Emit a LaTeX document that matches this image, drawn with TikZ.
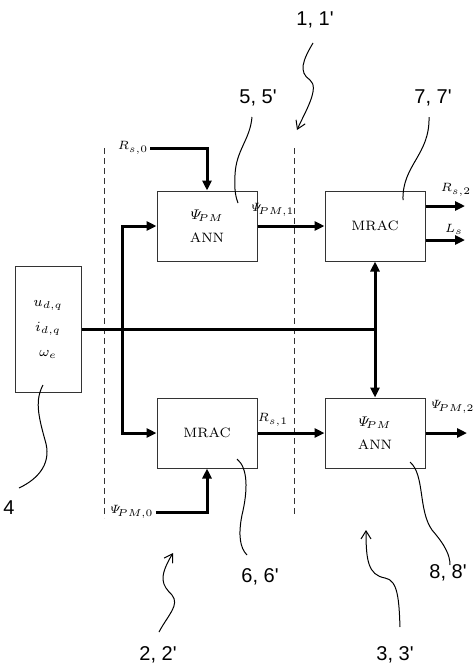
\documentclass[tikz,border=0pt]{standalone}
\usepackage{amsmath}
\usepackage{fontspec}
\usepackage{xcolor}
\usepackage{tikz}
\usetikzlibrary{arrows.meta, calc}
\newfontfamily\refnumfont{Liberation Sans}
\tikzset{
	block/.style={draw=black!80, line width=0.5pt, minimum width=50pt, minimum height=35pt, inner sep=0pt, align=center, font=\fontsize{6.8}{8}\selectfont},
	flow/.style={line width=1.5pt, -{Triangle[length=5pt,width=4.5pt]}},
	dflow/.style={line width=1.5pt, {Triangle[length=5pt,width=4.5pt]}-{Triangle[length=5pt,width=4.5pt]}},
	bus/.style={line width=1.5pt},
	sep/.style={densely dashed, line width=0.5pt, black!80},
	lead/.style={line width=0.5pt},
	pointer/.style={line width=0.5pt, -{Straight Barb[length=4pt,width=5pt]}},
	refnum/.style={font=\refnumfont\fontsize{10}{12}\selectfont},
	sig/.style={font=\fontsize{6.5}{8}\selectfont, inner sep=1pt}
}

\begin{document}
\begin{tikzpicture}[x=0.5pt, y=-0.5pt]

	\useasboundingbox (0,0) rectangle (474,669);

	\node[block, minimum width=33pt, minimum height=63pt] (sens) at (48,329) {$u_{d,q}$\\[4.5pt]$i_{d,q}$\\[4.5pt]$\omega_e$};
	\node[block] (ann1) at (207,226) {$\varPsi_{\!PM}$\\[3.5pt]ANN};
	\node[block] (mrac1) at (207,433) {MRAC};
	\node[block] (mrac2) at (375,226) {MRAC};
	\node[block] (ann2) at (375,433) {$\varPsi_{\!PM}$\\[3.5pt]ANN};

	\coordinate (split) at (122,329);
	\coordinate (tee) at (mrac2.south |- sens.east);
	\coordinate (rs2end) at (465,206);
	\coordinate (lsend) at (465,240);
	\coordinate (psi2end) at (467,433);

	\draw[sep] (104,148) -- (104,518);
	\draw[sep] (294,148) -- (294,516);

	\node[sig] (rs0) at (133,148) {$R_{s,0}$};
	\node[sig] (psi0) at (132,512) {$\varPsi_{\!PM,0}$};
	\node[sig] at (273,210) {$\varPsi_{\!PM,1}$};
	\node[sig] at (273,420) {$R_{s,1}$};
	\node[sig] at (456,190) {$R_{s,2}$};
	\node[sig] at (454,229) {$L_s$};
	\node[sig] at (453,407) {$\varPsi_{\!PM,2}$};

	\draw[bus] (sens.east) -- (tee);
	\draw[flow] (split) |- (ann1.west);
	\draw[flow] (split) |- (mrac1.west);
	\draw[flow] (rs0.east) -| (ann1.north);
	\draw[flow] (psi0.east) -| (mrac1.south);
	\draw[flow] (ann1.east) -- (mrac2.west);
	\draw[flow] (mrac1.east) -- (ann2.west);
	\draw[dflow] (mrac2.south) -- (ann2.north);
	\draw[flow] ([yshift=10pt]mrac2.east) -- (rs2end);
	\draw[flow] ([yshift=-7pt]mrac2.east) -- (lsend);
	\draw[flow] (ann2.east) -- (psi2end);

	\node[refnum] at (315,20) {1, 1'};
	\node[refnum] at (158,655) {2, 2'};
	\node[refnum] at (395,655) {3, 3'};
	\node[refnum] at (9,508) {4};
	\node[refnum] at (258,98) {5, 5'};
	\node[refnum] at (260,577) {6, 6'};
	\node[refnum] at (433,98) {7, 7'};
	\node[refnum] at (448,573) {8, 8'};

	\draw[pointer] (313,43) .. controls (303,60) and (298,72) .. (310,80) .. controls (320,88) and (305,112) .. (297,130);
	\draw[pointer] (159,632) .. controls (168,615) and (180,605) .. (172,595) .. controls (162,585) and (158,578) .. (173,553);
	\draw[pointer] (400,627) .. controls (399,600) and (398,580) .. (385,578) .. controls (368,575) and (366,560) .. (366,530);
	\draw[lead] (43,385) .. controls (35,400) and (38,415) .. (45,440) .. controls (52,462) and (40,478) .. (19,488);
	\draw[lead] (252,117) .. controls (250,140) and (236,150) .. (235,175) .. controls (234,190) and (236,198) .. (238,203);
	\draw[lead] (237,459) .. controls (248,468) and (248,490) .. (242,515) .. controls (238,535) and (240,548) .. (247,555);
	\draw[lead] (429,117) .. controls (430,155) and (402,165) .. (403,200);
	\draw[lead] (410,462) .. controls (425,475) and (418,510) .. (432,530) .. controls (445,545) and (450,555) .. (450,565);

\end{tikzpicture}
\end{document}
